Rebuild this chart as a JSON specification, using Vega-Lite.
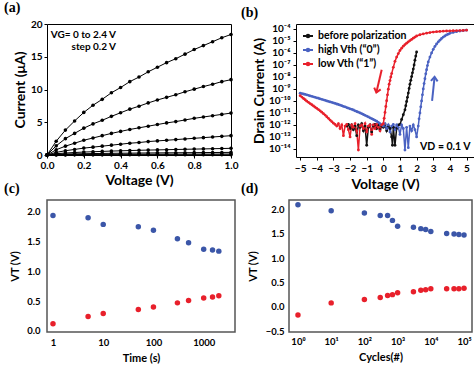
{
 "$schema": "https://vega.github.io/schema/vega-lite/v6.json",
 "padding": {"left": 3, "top": 0, "right": 2, "bottom": 0},
 "background": "white",
 "config": {
  "view": {"stroke": "black", "strokeWidth": 1},
  "font": "Lato",
  "axis": {"grid": false, "domain": false, "labelFont": "Lato", "titleFont": "Lato", "labelFontWeight": "bold", "titleFontWeight": "bold", "labelColor": "black", "titleColor": "black", "tickColor": "black", "labelOverlap": false},
  "title": {"font": "Liberation Serif", "fontWeight": "bold", "fontSize": 14, "anchor": "start", "frame": "group", "color": "black", "offset": 0}
 },
 "datasets": {
  "iv": [
   {"vg":2.4,"v":0,"i":0},{"vg":2.4,"v":0.05,"i":2.1},{"vg":2.4,"v":0.1,"i":3.8},{"vg":2.4,"v":0.15,"i":5.2},{"vg":2.4,"v":0.2,"i":6.5},{"vg":2.4,"v":0.25,"i":7.6},{"vg":2.4,"v":0.3,"i":8.5},{"vg":2.4,"v":0.35,"i":9.5},{"vg":2.4,"v":0.4,"i":10.3},{"vg":2.4,"v":0.45,"i":11.2},{"vg":2.4,"v":0.5,"i":11.9},{"vg":2.4,"v":0.55,"i":12.7},{"vg":2.4,"v":0.6,"i":13.4},{"vg":2.4,"v":0.65,"i":14.1},{"vg":2.4,"v":0.7,"i":14.7},{"vg":2.4,"v":0.75,"i":15.4},{"vg":2.4,"v":0.8,"i":16.1},{"vg":2.4,"v":0.85,"i":16.7},{"vg":2.4,"v":0.9,"i":17.3},{"vg":2.4,"v":0.95,"i":17.9},{"vg":2.4,"v":1,"i":18.4},
   {"vg":2.2,"v":0,"i":0},{"vg":2.2,"v":0.05,"i":1.4},{"vg":2.2,"v":0.1,"i":2.5},{"vg":2.2,"v":0.15,"i":3.3},{"vg":2.2,"v":0.2,"i":4.1},{"vg":2.2,"v":0.25,"i":4.75},{"vg":2.2,"v":0.3,"i":5.3},{"vg":2.2,"v":0.35,"i":5.9},{"vg":2.2,"v":0.4,"i":6.45},{"vg":2.2,"v":0.45,"i":7.0},{"vg":2.2,"v":0.5,"i":7.45},{"vg":2.2,"v":0.55,"i":7.95},{"vg":2.2,"v":0.6,"i":8.4},{"vg":2.2,"v":0.65,"i":8.8},{"vg":2.2,"v":0.7,"i":9.2},{"vg":2.2,"v":0.75,"i":9.65},{"vg":2.2,"v":0.8,"i":10.05},{"vg":2.2,"v":0.85,"i":10.45},{"vg":2.2,"v":0.9,"i":10.8},{"vg":2.2,"v":0.95,"i":11.2},{"vg":2.2,"v":1,"i":11.5},
   {"vg":2.0,"v":0,"i":0},{"vg":2.0,"v":0.05,"i":0.8},{"vg":2.0,"v":0.1,"i":1.35},{"vg":2.0,"v":0.15,"i":1.8},{"vg":2.0,"v":0.2,"i":2.25},{"vg":2.0,"v":0.25,"i":2.6},{"vg":2.0,"v":0.3,"i":2.95},{"vg":2.0,"v":0.35,"i":3.3},{"vg":2.0,"v":0.4,"i":3.6},{"vg":2.0,"v":0.45,"i":3.9},{"vg":2.0,"v":0.5,"i":4.15},{"vg":2.0,"v":0.55,"i":4.4},{"vg":2.0,"v":0.6,"i":4.65},{"vg":2.0,"v":0.65,"i":4.9},{"vg":2.0,"v":0.7,"i":5.1},{"vg":2.0,"v":0.75,"i":5.35},{"vg":2.0,"v":0.8,"i":5.6},{"vg":2.0,"v":0.85,"i":5.8},{"vg":2.0,"v":0.9,"i":6.0},{"vg":2.0,"v":0.95,"i":6.2},{"vg":2.0,"v":1,"i":6.4},
   {"vg":1.8,"v":0,"i":0},{"vg":1.8,"v":0.05,"i":0.4},{"vg":1.8,"v":0.1,"i":0.65},{"vg":1.8,"v":0.15,"i":0.85},{"vg":1.8,"v":0.2,"i":1.05},{"vg":1.8,"v":0.25,"i":1.2},{"vg":1.8,"v":0.3,"i":1.35},{"vg":1.8,"v":0.35,"i":1.5},{"vg":1.8,"v":0.4,"i":1.65},{"vg":1.8,"v":0.45,"i":1.8},{"vg":1.8,"v":0.5,"i":1.9},{"vg":1.8,"v":0.55,"i":2.05},{"vg":1.8,"v":0.6,"i":2.15},{"vg":1.8,"v":0.65,"i":2.25},{"vg":1.8,"v":0.7,"i":2.35},{"vg":1.8,"v":0.75,"i":2.45},{"vg":1.8,"v":0.8,"i":2.55},{"vg":1.8,"v":0.85,"i":2.65},{"vg":1.8,"v":0.9,"i":2.75},{"vg":1.8,"v":0.95,"i":2.85},{"vg":1.8,"v":1,"i":2.95},
   {"vg":1.6,"v":0,"i":0},{"vg":1.6,"v":0.05,"i":0.2},{"vg":1.6,"v":0.1,"i":0.3},{"vg":1.6,"v":0.15,"i":0.38},{"vg":1.6,"v":0.2,"i":0.45},{"vg":1.6,"v":0.25,"i":0.5},{"vg":1.6,"v":0.3,"i":0.55},{"vg":1.6,"v":0.35,"i":0.6},{"vg":1.6,"v":0.4,"i":0.64},{"vg":1.6,"v":0.45,"i":0.68},{"vg":1.6,"v":0.5,"i":0.72},{"vg":1.6,"v":0.55,"i":0.75},{"vg":1.6,"v":0.6,"i":0.78},{"vg":1.6,"v":0.65,"i":0.81},{"vg":1.6,"v":0.7,"i":0.84},{"vg":1.6,"v":0.75,"i":0.87},{"vg":1.6,"v":0.8,"i":0.9},{"vg":1.6,"v":0.85,"i":0.93},{"vg":1.6,"v":0.9,"i":0.96},{"vg":1.6,"v":0.95,"i":0.99},{"vg":1.6,"v":1,"i":1.02},
   {"vg":1.4,"v":0,"i":0},{"vg":1.4,"v":0.05,"i":0.1},{"vg":1.4,"v":0.1,"i":0.15},{"vg":1.4,"v":0.15,"i":0.18},{"vg":1.4,"v":0.2,"i":0.2},{"vg":1.4,"v":0.25,"i":0.22},{"vg":1.4,"v":0.3,"i":0.24},{"vg":1.4,"v":0.35,"i":0.26},{"vg":1.4,"v":0.4,"i":0.27},{"vg":1.4,"v":0.45,"i":0.28},{"vg":1.4,"v":0.5,"i":0.3},{"vg":1.4,"v":0.55,"i":0.31},{"vg":1.4,"v":0.6,"i":0.32},{"vg":1.4,"v":0.65,"i":0.33},{"vg":1.4,"v":0.7,"i":0.34},{"vg":1.4,"v":0.75,"i":0.35},{"vg":1.4,"v":0.8,"i":0.36},{"vg":1.4,"v":0.85,"i":0.37},{"vg":1.4,"v":0.9,"i":0.38},{"vg":1.4,"v":0.95,"i":0.39},{"vg":1.4,"v":1,"i":0.4},
   {"vg":1.2,"v":0,"i":0},{"vg":1.2,"v":0.05,"i":0.04},{"vg":1.2,"v":0.1,"i":0.06},{"vg":1.2,"v":0.15,"i":0.07},{"vg":1.2,"v":0.2,"i":0.08},{"vg":1.2,"v":0.25,"i":0.09},{"vg":1.2,"v":0.3,"i":0.1},{"vg":1.2,"v":0.35,"i":0.1},{"vg":1.2,"v":0.4,"i":0.11},{"vg":1.2,"v":0.45,"i":0.11},{"vg":1.2,"v":0.5,"i":0.12},{"vg":1.2,"v":0.55,"i":0.12},{"vg":1.2,"v":0.6,"i":0.12},{"vg":1.2,"v":0.65,"i":0.13},{"vg":1.2,"v":0.7,"i":0.13},{"vg":1.2,"v":0.75,"i":0.13},{"vg":1.2,"v":0.8,"i":0.14},{"vg":1.2,"v":0.85,"i":0.14},{"vg":1.2,"v":0.9,"i":0.14},{"vg":1.2,"v":0.95,"i":0.15},{"vg":1.2,"v":1,"i":0.15},
   {"vg":1.0,"v":0,"i":0},{"vg":1.0,"v":0.05,"i":0.01},{"vg":1.0,"v":0.1,"i":0.01},{"vg":1.0,"v":0.15,"i":0.02},{"vg":1.0,"v":0.2,"i":0.02},{"vg":1.0,"v":0.25,"i":0.02},{"vg":1.0,"v":0.3,"i":0.02},{"vg":1.0,"v":0.35,"i":0.02},{"vg":1.0,"v":0.4,"i":0.02},{"vg":1.0,"v":0.45,"i":0.03},{"vg":1.0,"v":0.5,"i":0.03},{"vg":1.0,"v":0.55,"i":0.03},{"vg":1.0,"v":0.6,"i":0.03},{"vg":1.0,"v":0.65,"i":0.03},{"vg":1.0,"v":0.7,"i":0.03},{"vg":1.0,"v":0.75,"i":0.03},{"vg":1.0,"v":0.8,"i":0.03},{"vg":1.0,"v":0.85,"i":0.03},{"vg":1.0,"v":0.9,"i":0.03},{"vg":1.0,"v":0.95,"i":0.03},{"vg":1.0,"v":1,"i":0.03}
  ],
  "tr": [
   {"s":"before","v":-2.2,"i":7.9e-13},{"s":"before","v":-2.1,"i":1.1e-12},{"s":"before","v":-2.0,"i":5.0e-13},{"s":"before","v":-1.9,"i":1.0e-12},{"s":"before","v":-1.8,"i":4.0e-13},{"s":"before","v":-1.7,"i":7.9e-13},{"s":"before","v":-1.6,"i":1.26e-13},{"s":"before","v":-1.5,"i":1.0e-12},{"s":"before","v":-1.4,"i":6.3e-13},{"s":"before","v":-1.3,"i":1.26e-12},{"s":"before","v":-1.2,"i":3.2e-13},{"s":"before","v":-1.1,"i":7.9e-13},{"s":"before","v":-1.0,"i":2.0e-14},{"s":"before","v":-0.9,"i":6.3e-13},{"s":"before","v":-0.8,"i":1.0e-12},{"s":"before","v":-0.7,"i":2.5e-13},{"s":"before","v":-0.6,"i":7.9e-13},{"s":"before","v":-0.5,"i":1.1e-12},{"s":"before","v":-0.4,"i":5.0e-13},{"s":"before","v":-0.3,"i":1.0e-12},{"s":"before","v":-0.2,"i":4.0e-13},{"s":"before","v":-0.1,"i":7.9e-13},{"s":"before","v":0,"i":6.3e-13},{"s":"before","v":0.1,"i":1.1e-12},{"s":"before","v":0.2,"i":3.2e-13},{"s":"before","v":0.3,"i":7.9e-13},{"s":"before","v":0.4,"i":5.0e-13},{"s":"before","v":0.5,"i":1.0e-13},{"s":"before","v":0.55,"i":2.0e-14},{"s":"before","v":0.6,"i":6.3e-13},{"s":"before","v":0.7,"i":2.0e-14},{"s":"before","v":0.8,"i":5.0e-13},{"s":"before","v":0.9,"i":1.0e-12},{"s":"before","v":1.0,"i":1.1e-12},{"s":"before","v":1.1,"i":2.8e-12},{"s":"before","v":1.2,"i":7.1e-12},{"s":"before","v":1.3,"i":1.8e-11},{"s":"before","v":1.35,"i":4.0e-11},{"s":"before","v":1.4,"i":8.9e-11},{"s":"before","v":1.45,"i":2.0e-10},{"s":"before","v":1.5,"i":4.5e-10},{"s":"before","v":1.55,"i":1.1e-9},{"s":"before","v":1.6,"i":2.5e-9},{"s":"before","v":1.65,"i":5.2e-9},{"s":"before","v":1.7,"i":1.07e-8},{"s":"before","v":1.75,"i":2.2e-8},{"s":"before","v":1.8,"i":4.5e-8},{"s":"before","v":1.85,"i":1.0e-7},{"s":"before","v":1.9,"i":2.5e-7},{"s":"before","v":1.95,"i":5.5e-7},{"s":"before","v":2.0,"i":1.2e-6},
   {"s":"high","v":-5.0,"i":4.4e-10},{"s":"high","v":-4.9,"i":4.1e-10},{"s":"high","v":-4.8,"i":3.8e-10},{"s":"high","v":-4.7,"i":3.5e-10},{"s":"high","v":-4.6,"i":3.2e-10},{"s":"high","v":-4.5,"i":2.9e-10},{"s":"high","v":-4.4,"i":2.6e-10},{"s":"high","v":-4.3,"i":2.4e-10},{"s":"high","v":-4.2,"i":2.2e-10},{"s":"high","v":-4.1,"i":2.0e-10},{"s":"high","v":-4.0,"i":1.8e-10},{"s":"high","v":-3.9,"i":1.66e-10},{"s":"high","v":-3.8,"i":1.48e-10},{"s":"high","v":-3.7,"i":1.35e-10},{"s":"high","v":-3.6,"i":1.23e-10},{"s":"high","v":-3.5,"i":1.12e-10},{"s":"high","v":-3.4,"i":1.0e-10},{"s":"high","v":-3.3,"i":9.1e-11},{"s":"high","v":-3.2,"i":8.3e-11},{"s":"high","v":-3.1,"i":7.6e-11},{"s":"high","v":-3.0,"i":6.8e-11},{"s":"high","v":-2.9,"i":6.2e-11},{"s":"high","v":-2.8,"i":5.5e-11},{"s":"high","v":-2.7,"i":5.0e-11},{"s":"high","v":-2.6,"i":4.5e-11},{"s":"high","v":-2.5,"i":4.0e-11},{"s":"high","v":-2.4,"i":3.5e-11},{"s":"high","v":-2.3,"i":3.2e-11},{"s":"high","v":-2.2,"i":2.8e-11},{"s":"high","v":-2.1,"i":2.5e-11},{"s":"high","v":-2.0,"i":2.2e-11},{"s":"high","v":-1.9,"i":2.0e-11},{"s":"high","v":-1.8,"i":1.74e-11},{"s":"high","v":-1.7,"i":1.5e-11},{"s":"high","v":-1.6,"i":1.3e-11},{"s":"high","v":-1.5,"i":1.15e-11},{"s":"high","v":-1.4,"i":1.0e-11},{"s":"high","v":-1.3,"i":8.7e-12},{"s":"high","v":-1.2,"i":7.4e-12},{"s":"high","v":-1.1,"i":6.3e-12},{"s":"high","v":-1.0,"i":5.4e-12},{"s":"high","v":-0.9,"i":4.6e-12},{"s":"high","v":-0.8,"i":3.9e-12},{"s":"high","v":-0.7,"i":3.3e-12},{"s":"high","v":-0.6,"i":2.8e-12},{"s":"high","v":-0.5,"i":2.4e-12},{"s":"high","v":-0.4,"i":2.0e-12},{"s":"high","v":-0.3,"i":1.6e-12},{"s":"high","v":-0.2,"i":1.26e-12},{"s":"high","v":-0.1,"i":1.0e-12},{"s":"high","v":0,"i":7.9e-13},{"s":"high","v":0.1,"i":1.26e-12},{"s":"high","v":0.2,"i":5.0e-13},{"s":"high","v":0.3,"i":1.0e-12},{"s":"high","v":0.4,"i":2.5e-13},{"s":"high","v":0.5,"i":7.9e-13},{"s":"high","v":0.6,"i":1.1e-12},{"s":"high","v":0.7,"i":4.0e-13},{"s":"high","v":0.8,"i":1.0e-12},{"s":"high","v":0.9,"i":6.3e-13},{"s":"high","v":1.0,"i":1.6e-13},{"s":"high","v":1.1,"i":1.0e-12},{"s":"high","v":1.2,"i":5.0e-13},{"s":"high","v":1.3,"i":8.0e-15},{"s":"high","v":1.4,"i":6.3e-13},{"s":"high","v":1.5,"i":1.26e-14},{"s":"high","v":1.6,"i":7.9e-13},{"s":"high","v":1.7,"i":3.2e-13},{"s":"high","v":1.8,"i":1.0e-12},{"s":"high","v":1.9,"i":4.0e-13},{"s":"high","v":2.0,"i":1.0e-13},{"s":"high","v":2.1,"i":7.9e-13},{"s":"high","v":2.15,"i":3.2e-12},{"s":"high","v":2.2,"i":1.0e-11},{"s":"high","v":2.25,"i":3.2e-11},{"s":"high","v":2.3,"i":1.0e-10},{"s":"high","v":2.35,"i":3.2e-10},{"s":"high","v":2.4,"i":1.0e-9},{"s":"high","v":2.45,"i":2.8e-9},{"s":"high","v":2.5,"i":7.1e-9},{"s":"high","v":2.55,"i":1.8e-8},{"s":"high","v":2.6,"i":4.0e-8},{"s":"high","v":2.65,"i":8.9e-8},{"s":"high","v":2.7,"i":1.8e-7},{"s":"high","v":2.8,"i":4.5e-7},{"s":"high","v":2.9,"i":1.0e-6},{"s":"high","v":3.0,"i":2.0e-6},{"s":"high","v":3.1,"i":3.5e-6},{"s":"high","v":3.2,"i":5.6e-6},{"s":"high","v":3.3,"i":8.3e-6},{"s":"high","v":3.4,"i":1.17e-5},{"s":"high","v":3.5,"i":1.6e-5},{"s":"high","v":3.6,"i":2.1e-5},{"s":"high","v":3.7,"i":2.6e-5},{"s":"high","v":3.8,"i":3.2e-5},{"s":"high","v":3.9,"i":3.7e-5},{"s":"high","v":4.0,"i":4.3e-5},{"s":"high","v":4.2,"i":5.2e-5},{"s":"high","v":4.4,"i":6.0e-5},{"s":"high","v":4.6,"i":6.8e-5},{"s":"high","v":4.8,"i":7.4e-5},{"s":"high","v":5.0,"i":7.9e-5},
   {"s":"low","v":-5.0,"i":2.75e-10},{"s":"low","v":-4.9,"i":2.1e-10},{"s":"low","v":-4.8,"i":1.6e-10},{"s":"low","v":-4.7,"i":1.25e-10},{"s":"low","v":-4.6,"i":9.5e-11},{"s":"low","v":-4.5,"i":7.6e-11},{"s":"low","v":-4.4,"i":6.0e-11},{"s":"low","v":-4.3,"i":4.8e-11},{"s":"low","v":-4.2,"i":3.8e-11},{"s":"low","v":-4.1,"i":3.0e-11},{"s":"low","v":-4.0,"i":2.4e-11},{"s":"low","v":-3.9,"i":1.9e-11},{"s":"low","v":-3.8,"i":1.5e-11},{"s":"low","v":-3.7,"i":1.15e-11},{"s":"low","v":-3.6,"i":8.7e-12},{"s":"low","v":-3.5,"i":6.6e-12},{"s":"low","v":-3.4,"i":4.8e-12},{"s":"low","v":-3.3,"i":3.5e-12},{"s":"low","v":-3.2,"i":2.5e-12},{"s":"low","v":-3.1,"i":1.9e-12},{"s":"low","v":-3.0,"i":1.4e-12},{"s":"low","v":-2.9,"i":1.1e-12},{"s":"low","v":-2.8,"i":7.9e-13},{"s":"low","v":-2.7,"i":1.26e-12},{"s":"low","v":-2.6,"i":5.0e-13},{"s":"low","v":-2.5,"i":1.0e-12},{"s":"low","v":-2.4,"i":1.26e-13},{"s":"low","v":-2.3,"i":7.9e-13},{"s":"low","v":-2.2,"i":1.1e-12},{"s":"low","v":-2.1,"i":4.0e-13},{"s":"low","v":-2.0,"i":1.0e-13},{"s":"low","v":-1.9,"i":1.0e-12},{"s":"low","v":-1.8,"i":6.3e-13},{"s":"low","v":-1.7,"i":1.26e-12},{"s":"low","v":-1.6,"i":3.2e-13},{"s":"low","v":-1.5,"i":8.0e-15},{"s":"low","v":-1.4,"i":7.9e-13},{"s":"low","v":-1.3,"i":1.0e-12},{"s":"low","v":-1.2,"i":5.0e-13},{"s":"low","v":-1.1,"i":1.26e-12},{"s":"low","v":-1.0,"i":2.5e-13},{"s":"low","v":-0.9,"i":7.9e-13},{"s":"low","v":-0.8,"i":1.0e-12},{"s":"low","v":-0.7,"i":1.6e-13},{"s":"low","v":-0.6,"i":1.0e-12},{"s":"low","v":-0.5,"i":5.0e-13},{"s":"low","v":-0.4,"i":1.1e-12},{"s":"low","v":-0.3,"i":6.3e-13},{"s":"low","v":-0.2,"i":3.2e-13},{"s":"low","v":-0.1,"i":1.0e-12},{"s":"low","v":0,"i":1.26e-12},{"s":"low","v":0.05,"i":3.5e-12},{"s":"low","v":0.1,"i":1.1e-11},{"s":"low","v":0.15,"i":3.4e-11},{"s":"low","v":0.2,"i":1.05e-10},{"s":"low","v":0.25,"i":3.2e-10},{"s":"low","v":0.3,"i":9.5e-10},{"s":"low","v":0.35,"i":2.5e-9},{"s":"low","v":0.4,"i":5.0e-9},{"s":"low","v":0.45,"i":1.0e-8},{"s":"low","v":0.5,"i":1.9e-8},{"s":"low","v":0.6,"i":6.3e-8},{"s":"low","v":0.7,"i":2.0e-7},{"s":"low","v":0.8,"i":4.5e-7},{"s":"low","v":0.9,"i":8.9e-7},{"s":"low","v":1.0,"i":1.6e-6},{"s":"low","v":1.1,"i":2.5e-6},{"s":"low","v":1.2,"i":3.7e-6},{"s":"low","v":1.3,"i":5.0e-6},{"s":"low","v":1.4,"i":6.6e-6},{"s":"low","v":1.5,"i":8.5e-6},{"s":"low","v":1.6,"i":1.07e-5},{"s":"low","v":1.7,"i":1.35e-5},{"s":"low","v":1.8,"i":1.7e-5},{"s":"low","v":1.9,"i":2.1e-5},{"s":"low","v":2.0,"i":2.6e-5},{"s":"low","v":2.2,"i":3.3e-5},{"s":"low","v":2.4,"i":3.9e-5},{"s":"low","v":2.6,"i":4.5e-5},{"s":"low","v":2.8,"i":5.0e-5},{"s":"low","v":3.0,"i":5.5e-5},{"s":"low","v":3.2,"i":6.0e-5},{"s":"low","v":3.4,"i":6.3e-5},{"s":"low","v":3.6,"i":6.6e-5},{"s":"low","v":3.8,"i":6.8e-5},{"s":"low","v":4.0,"i":6.9e-5},{"s":"low","v":4.2,"i":7.1e-5},{"s":"low","v":4.4,"i":7.2e-5},{"s":"low","v":4.6,"i":7.4e-5},{"s":"low","v":4.8,"i":7.6e-5},{"s":"low","v":5.0,"i":7.9e-5}
  ],
  "arr": [
   {"s":"low","v":-0.1,"i":4.0e-8,"v2":-0.42,"i2":5.0e-10},
   {"s":"high","v":2.93,"i":1.0e-10,"v2":3.08,"i2":1.0e-8}
  ],
  "ret": [
   {"st":"high","t":1,"vt":1.94},{"st":"high","t":5,"vt":1.90},{"st":"high","t":10,"vt":1.79},{"st":"high","t":50,"vt":1.75},{"st":"high","t":100,"vt":1.69},{"st":"high","t":300,"vt":1.55},{"st":"high","t":500,"vt":1.48},{"st":"high","t":1000,"vt":1.37},{"st":"high","t":1500,"vt":1.36},{"st":"high","t":2000,"vt":1.34},
   {"st":"low","t":1,"vt":0.12},{"st":"low","t":5,"vt":0.24},{"st":"low","t":10,"vt":0.29},{"st":"low","t":50,"vt":0.36},{"st":"low","t":100,"vt":0.40},{"st":"low","t":300,"vt":0.47},{"st":"low","t":500,"vt":0.51},{"st":"low","t":1000,"vt":0.55},{"st":"low","t":1500,"vt":0.57},{"st":"low","t":2000,"vt":0.59}
  ],
  "end": [
   {"st":"high","n":1,"vt":2.10},{"st":"high","n":10,"vt":1.98},{"st":"high","n":100,"vt":1.93},{"st":"high","n":300,"vt":1.88},{"st":"high","n":500,"vt":1.88},{"st":"high","n":700,"vt":1.78},{"st":"high","n":1000,"vt":1.66},{"st":"high","n":3000,"vt":1.64},{"st":"high","n":5000,"vt":1.61},{"st":"high","n":7000,"vt":1.59},{"st":"high","n":10000,"vt":1.55},{"st":"high","n":30000,"vt":1.51},{"st":"high","n":50000,"vt":1.50},{"st":"high","n":70000,"vt":1.49},{"st":"high","n":100000,"vt":1.48},
   {"st":"low","n":1,"vt":-0.17},{"st":"low","n":10,"vt":0.08},{"st":"low","n":100,"vt":0.15},{"st":"low","n":300,"vt":0.19},{"st":"low","n":500,"vt":0.23},{"st":"low","n":700,"vt":0.25},{"st":"low","n":1000,"vt":0.29},{"st":"low","n":3000,"vt":0.31},{"st":"low","n":5000,"vt":0.34},{"st":"low","n":7000,"vt":0.35},{"st":"low","n":10000,"vt":0.37},{"st":"low","n":30000,"vt":0.37},{"st":"low","n":50000,"vt":0.37},{"st":"low","n":70000,"vt":0.37},{"st":"low","n":100000,"vt":0.38}
  ]
 },
 "vconcat": [
  {
   "hconcat": [
    {
     "width": 184, "height": 131,
     "title": {"text": "(a)", "dx": -43},
     "layer": [
      {"data": {"name": "iv"}, "mark": {"type": "line", "color": "black", "strokeWidth": 1},
       "encoding": {
        "x": {"field": "v", "type": "quantitative", "scale": {"domain": [0, 1], "nice": false}, "axis": {"values": [0, 0.2, 0.4, 0.6, 0.8, 1], "format": ".1f", "title": "Voltage (V)", "labelFontSize": 10, "titleFontSize": 14, "tickSize": 3, "labelPadding": 2, "titlePadding": 3, "labelFlush": false, "labelOverlap": false}},
        "y": {"field": "i", "type": "quantitative", "scale": {"domain": [0, 20], "nice": false}, "axis": {"values": [0, 5, 10, 15, 20], "title": "Current (μA)", "labelFontSize": 10, "titleFontSize": 14, "tickSize": 3, "labelPadding": 2, "titlePadding": 3, "labelFlush": false, "labelOverlap": false}},
        "detail": {"field": "vg", "type": "nominal"}
       }},
      {"data": {"name": "iv"}, "mark": {"type": "point", "filled": true, "color": "black", "size": 13, "opacity": 1},
       "encoding": {
        "x": {"field": "v", "type": "quantitative", "scale": {"domain": [0, 1], "nice": false}, "axis": {"values": [0, 0.2, 0.4, 0.6, 0.8, 1], "format": ".1f", "title": "Voltage (V)", "labelFontSize": 10, "titleFontSize": 14, "tickSize": 3, "labelPadding": 2, "titlePadding": 3, "labelFlush": false, "labelOverlap": false}},
        "y": {"field": "i", "type": "quantitative", "scale": {"domain": [0, 20], "nice": false}, "axis": {"values": [0, 5, 10, 15, 20], "title": "Current (μA)", "labelFontSize": 10, "titleFontSize": 14, "tickSize": 3, "labelPadding": 2, "titlePadding": 3, "labelFlush": false, "labelOverlap": false}}
       }},
      {"data": {"values": [{}]}, "mark": {"type": "text", "text": "VG= 0 to 2.4 V", "align": "right", "baseline": "middle", "fontSize": 10, "fontWeight": "bold", "font": "Lato", "color": "black"},
       "encoding": {
        "x": {"datum": 0.375, "type": "quantitative", "scale": {"domain": [0, 1], "nice": false}, "axis": {"values": [0, 0.2, 0.4, 0.6, 0.8, 1], "format": ".1f", "title": "Voltage (V)", "labelFontSize": 10, "titleFontSize": 14, "tickSize": 3, "labelPadding": 2, "titlePadding": 3, "labelFlush": false, "labelOverlap": false}},
        "y": {"datum": 18.3, "type": "quantitative", "scale": {"domain": [0, 20], "nice": false}, "axis": {"values": [0, 5, 10, 15, 20], "title": "Current (μA)", "labelFontSize": 10, "titleFontSize": 14, "tickSize": 3, "labelPadding": 2, "titlePadding": 3, "labelFlush": false, "labelOverlap": false}}
       }},
      {"data": {"values": [{}]}, "mark": {"type": "text", "text": "step 0.2 V", "align": "right", "baseline": "middle", "fontSize": 10, "fontWeight": "bold", "font": "Lato", "color": "black"},
       "encoding": {
        "x": {"datum": 0.375, "type": "quantitative", "scale": {"domain": [0, 1], "nice": false}, "axis": {"values": [0, 0.2, 0.4, 0.6, 0.8, 1], "format": ".1f", "title": "Voltage (V)", "labelFontSize": 10, "titleFontSize": 14, "tickSize": 3, "labelPadding": 2, "titlePadding": 3, "labelFlush": false, "labelOverlap": false}},
        "y": {"datum": 16.5, "type": "quantitative", "scale": {"domain": [0, 20], "nice": false}, "axis": {"values": [0, 5, 10, 15, 20], "title": "Current (μA)", "labelFontSize": 10, "titleFontSize": 14, "tickSize": 3, "labelPadding": 2, "titlePadding": 3, "labelFlush": false, "labelOverlap": false}}
       }}
     ]
    },
    {
     "width": 178, "height": 133,
     "title": {"text": "(b)", "dx": -55},
     "layer": [
      {
       "data": {"name": "tr"},
       "mark": {"type": "line", "strokeWidth": 1.5},
       "encoding": {
        "x": {"field": "v", "type": "quantitative", "scale": {"domain": [-5.25, 5.45], "nice": false}, "axis": {"values": [-5, -4, -3, -2, -1, 0, 1, 2, 3, 4, 5], "title": "Voltage (V)", "labelFontSize": 10, "titleFontSize": 14, "tickSize": 3, "labelPadding": 3, "titlePadding": 4, "labelFlush": false, "labelOverlap": false}},
        "y": {"field": "i", "type": "quantitative", "scale": {"type": "log", "domain": [2.1e-15, 2.6e-4], "nice": false}, "axis": {"values": [1e-14, 1e-13, 1e-12, 1e-11, 1e-10, 1e-9, 1e-8, 1e-7, 1e-6, 1e-5, 1e-4], "labelExpr": "'10⁻' + (round(-log(datum.value)/LN10) >= 10 ? '¹' : '') + ['⁰','¹','²','³','⁴','⁵','⁶','⁷','⁸','⁹'][round(-log(datum.value)/LN10) % 10]", "title": "Drain Current (A)", "labelFontSize": 10, "titleFontSize": 14, "tickSize": 3, "labelPadding": 3, "titlePadding": 2, "labelFlush": false, "labelOverlap": false}},
        "color": {"field": "s", "type": "nominal", "scale": {"domain": ["before", "high", "low"], "range": ["#111111", "#4a62c2", "#e8202b"]}, "legend": {"orient": "top-left", "offset": 6, "title": null, "padding": 0, "labelFontSize": 10.5, "labelFont": "Lato", "labelFontWeight": "bold", "labelColor": "black", "symbolType": "M-1,0H1M0.25,0A0.25,0.25 0 1 1 -0.25,0A0.25,0.25 0 1 1 0.25,0", "symbolSize": 100, "symbolStrokeWidth": 2, "rowPadding": 2, "labelOffset": 4, "labelExpr": "datum.value == 'before' ? 'before polarization' : datum.value == 'high' ? 'high Vth (“0”)' : 'low Vth (“1”)'"}}
       }
      },
      {
       "data": {"name": "tr"},
       "mark": {"type": "point", "filled": true, "size": 8, "opacity": 1},
       "encoding": {
        "x": {"field": "v", "type": "quantitative", "scale": {"domain": [-5.25, 5.45], "nice": false}, "axis": {"values": [-5, -4, -3, -2, -1, 0, 1, 2, 3, 4, 5], "title": "Voltage (V)", "labelFontSize": 10, "titleFontSize": 14, "tickSize": 3, "labelPadding": 3, "titlePadding": 4, "labelFlush": false, "labelOverlap": false}},
        "y": {"field": "i", "type": "quantitative", "scale": {"type": "log", "domain": [2.1e-15, 2.6e-4], "nice": false}, "axis": {"values": [1e-14, 1e-13, 1e-12, 1e-11, 1e-10, 1e-9, 1e-8, 1e-7, 1e-6, 1e-5, 1e-4], "labelExpr": "'10⁻' + (round(-log(datum.value)/LN10) >= 10 ? '¹' : '') + ['⁰','¹','²','³','⁴','⁵','⁶','⁷','⁸','⁹'][round(-log(datum.value)/LN10) % 10]", "title": "Drain Current (A)", "labelFontSize": 10, "titleFontSize": 14, "tickSize": 3, "labelPadding": 3, "titlePadding": 2, "labelFlush": false, "labelOverlap": false}},
        "color": {"field": "s", "type": "nominal", "scale": {"domain": ["before", "high", "low"], "range": ["#111111", "#4a62c2", "#e8202b"]}, "legend": {"orient": "top-left", "offset": 6, "title": null, "padding": 0, "labelFontSize": 10.5, "labelFont": "Lato", "labelFontWeight": "bold", "labelColor": "black", "symbolType": "M-1,0H1M0.25,0A0.25,0.25 0 1 1 -0.25,0A0.25,0.25 0 1 1 0.25,0", "symbolSize": 100, "symbolStrokeWidth": 2, "rowPadding": 2, "labelOffset": 4, "labelExpr": "datum.value == 'before' ? 'before polarization' : datum.value == 'high' ? 'high Vth (“0”)' : 'low Vth (“1”)'"}}
       }
      },
      {
       "data": {"name": "arr"},
       "mark": {"type": "rule", "strokeWidth": 2},
       "encoding": {
        "x": {"field": "v", "type": "quantitative", "scale": {"domain": [-5.25, 5.45], "nice": false}, "axis": {"values": [-5, -4, -3, -2, -1, 0, 1, 2, 3, 4, 5], "title": "Voltage (V)", "labelFontSize": 10, "titleFontSize": 14, "tickSize": 3, "labelPadding": 3, "titlePadding": 4, "labelFlush": false, "labelOverlap": false}},
        "y": {"field": "i", "type": "quantitative", "scale": {"type": "log", "domain": [2.1e-15, 2.6e-4], "nice": false}, "axis": {"values": [1e-14, 1e-13, 1e-12, 1e-11, 1e-10, 1e-9, 1e-8, 1e-7, 1e-6, 1e-5, 1e-4], "labelExpr": "'10⁻' + (round(-log(datum.value)/LN10) >= 10 ? '¹' : '') + ['⁰','¹','²','³','⁴','⁵','⁶','⁷','⁸','⁹'][round(-log(datum.value)/LN10) % 10]", "title": "Drain Current (A)", "labelFontSize": 10, "titleFontSize": 14, "tickSize": 3, "labelPadding": 3, "titlePadding": 2, "labelFlush": false, "labelOverlap": false}},
        "x2": {"field": "v2"},
        "y2": {"field": "i2"},
        "color": {"field": "s", "type": "nominal", "scale": {"domain": ["before", "high", "low"], "range": ["#111111", "#4a62c2", "#e8202b"]}, "legend": {"orient": "top-left", "offset": 6, "title": null, "padding": 0, "labelFontSize": 10.5, "labelFont": "Lato", "labelFontWeight": "bold", "labelColor": "black", "symbolType": "M-1,0H1M0.25,0A0.25,0.25 0 1 1 -0.25,0A0.25,0.25 0 1 1 0.25,0", "symbolSize": 100, "symbolStrokeWidth": 2, "rowPadding": 2, "labelOffset": 4, "labelExpr": "datum.value == 'before' ? 'before polarization' : datum.value == 'high' ? 'high Vth (“0”)' : 'low Vth (“1”)'"}}
       }
      },
      {
       "data": {"name": "arr"},
       "transform": [{"filter": "datum.s == 'low'"}],
       "mark": {"type": "point", "shape": "M-0.8,-1L0,0L0.8,-1", "filled": false, "size": 70, "strokeWidth": 2, "angle": 15, "color": "#e8202b", "opacity": 1},
       "encoding": {
        "x": {"field": "v2", "type": "quantitative", "scale": {"domain": [-5.25, 5.45], "nice": false}, "axis": {"values": [-5, -4, -3, -2, -1, 0, 1, 2, 3, 4, 5], "title": "Voltage (V)", "labelFontSize": 10, "titleFontSize": 14, "tickSize": 3, "labelPadding": 3, "titlePadding": 4, "labelFlush": false, "labelOverlap": false}},
        "y": {"field": "i2", "type": "quantitative", "scale": {"type": "log", "domain": [2.1e-15, 2.6e-4], "nice": false}, "axis": {"values": [1e-14, 1e-13, 1e-12, 1e-11, 1e-10, 1e-9, 1e-8, 1e-7, 1e-6, 1e-5, 1e-4], "labelExpr": "'10⁻' + (round(-log(datum.value)/LN10) >= 10 ? '¹' : '') + ['⁰','¹','²','³','⁴','⁵','⁶','⁷','⁸','⁹'][round(-log(datum.value)/LN10) % 10]", "title": "Drain Current (A)", "labelFontSize": 10, "titleFontSize": 14, "tickSize": 3, "labelPadding": 3, "titlePadding": 2, "labelFlush": false, "labelOverlap": false}}
       }
      },
      {
       "data": {"name": "arr"},
       "transform": [{"filter": "datum.s == 'high'"}],
       "mark": {"type": "point", "shape": "M-0.8,1L0,0L0.8,1", "filled": false, "size": 70, "strokeWidth": 2, "angle": 4, "color": "#4a62c2", "opacity": 1},
       "encoding": {
        "x": {"field": "v2", "type": "quantitative", "scale": {"domain": [-5.25, 5.45], "nice": false}, "axis": {"values": [-5, -4, -3, -2, -1, 0, 1, 2, 3, 4, 5], "title": "Voltage (V)", "labelFontSize": 10, "titleFontSize": 14, "tickSize": 3, "labelPadding": 3, "titlePadding": 4, "labelFlush": false, "labelOverlap": false}},
        "y": {"field": "i2", "type": "quantitative", "scale": {"type": "log", "domain": [2.1e-15, 2.6e-4], "nice": false}, "axis": {"values": [1e-14, 1e-13, 1e-12, 1e-11, 1e-10, 1e-9, 1e-8, 1e-7, 1e-6, 1e-5, 1e-4], "labelExpr": "'10⁻' + (round(-log(datum.value)/LN10) >= 10 ? '¹' : '') + ['⁰','¹','²','³','⁴','⁵','⁶','⁷','⁸','⁹'][round(-log(datum.value)/LN10) % 10]", "title": "Drain Current (A)", "labelFontSize": 10, "titleFontSize": 14, "tickSize": 3, "labelPadding": 3, "titlePadding": 2, "labelFlush": false, "labelOverlap": false}}
       }
      },
      {
       "data": {"values": [{}]},
       "mark": {"type": "text", "text": "VD = 0.1 V", "align": "right", "baseline": "middle", "fontSize": 10.5, "fontWeight": "bold", "font": "Lato", "color": "black"},
       "encoding": {
        "x": {"datum": 5.25, "type": "quantitative", "scale": {"domain": [-5.25, 5.45], "nice": false}, "axis": {"values": [-5, -4, -3, -2, -1, 0, 1, 2, 3, 4, 5], "title": "Voltage (V)", "labelFontSize": 10, "titleFontSize": 14, "tickSize": 3, "labelPadding": 3, "titlePadding": 4, "labelFlush": false, "labelOverlap": false}},
        "y": {"datum": 1.5e-14, "type": "quantitative", "scale": {"type": "log", "domain": [2.1e-15, 2.6e-4], "nice": false}, "axis": {"values": [1e-14, 1e-13, 1e-12, 1e-11, 1e-10, 1e-9, 1e-8, 1e-7, 1e-6, 1e-5, 1e-4], "labelExpr": "'10⁻' + (round(-log(datum.value)/LN10) >= 10 ? '¹' : '') + ['⁰','¹','²','³','⁴','⁵','⁶','⁷','⁸','⁹'][round(-log(datum.value)/LN10) % 10]", "title": "Drain Current (A)", "labelFontSize": 10, "titleFontSize": 14, "tickSize": 3, "labelPadding": 3, "titlePadding": 2, "labelFlush": false, "labelOverlap": false}}
       }
      }
     ]
    }
   ],
   "spacing": 65,
   "bounds": "flush",
   "resolve": {"scale": {"color": "independent"}, "legend": {"color": "independent"}}
  },
  {
   "hconcat": [
    {
     "width": 188, "height": 132,
     "title": {"text": "(c)", "dx": -43},
     "view": {"stroke": "#555555", "strokeWidth": 1.5},
     "data": {"name": "ret"},
     "mark": {"type": "circle", "size": 30, "opacity": 1},
     "encoding": {
      "x": {"field": "t", "type": "quantitative", "scale": {"type": "log", "domain": [0.76, 4200], "nice": false}, "axis": {"values": [1, 10, 100, 1000], "format": "d", "title": "Time (s)", "labelFontSize": 9.5, "titleFontSize": 11, "tickSize": 0, "labelPadding": 5, "titlePadding": 6, "labelFlush": false}},
      "y": {"field": "vt", "type": "quantitative", "scale": {"domain": [-0.02, 2.2], "nice": false}, "axis": {"values": [0, 0.5, 1, 1.5, 2], "format": ".1f", "title": "VT (V)", "labelFontSize": 9.5, "titleFontSize": 11, "tickSize": 0, "labelPadding": 7, "titlePadding": 6, "labelFlush": false}},
      "color": {"field": "st", "type": "nominal", "scale": {"domain": ["high", "low"], "range": ["#3b56a8", "#e8202b"]}, "legend": null}
     }
    },
    {
     "width": 183, "height": 132,
     "title": {"text": "(d)", "dx": -48},
     "view": {"stroke": "#555555", "strokeWidth": 1.5},
     "data": {"name": "end"},
     "mark": {"type": "circle", "size": 30, "opacity": 1},
     "encoding": {
      "x": {"field": "n", "type": "quantitative", "scale": {"type": "log", "domain": [0.537, 173780], "nice": false}, "axis": {"values": [1, 10, 100, 1000, 10000, 100000], "labelExpr": "'10' + ['⁰','¹','²','³','⁴','⁵'][round(log(datum.value)/LN10)]", "title": "Cycles(#)", "labelFontSize": 9.5, "titleFontSize": 11, "tickSize": 0, "labelPadding": 4, "titlePadding": 6, "labelFlush": false}},
      "y": {"field": "vt", "type": "quantitative", "scale": {"domain": [-0.52, 2.2], "nice": false}, "axis": {"values": [-0.5, 0, 0.5, 1, 1.5, 2], "format": ".1f", "title": "VT (V)", "labelFontSize": 9.5, "titleFontSize": 11, "tickSize": 0, "labelPadding": 5, "titlePadding": 7, "labelFlush": false}},
      "color": {"field": "st", "type": "nominal", "scale": {"domain": ["high", "low"], "range": ["#3b56a8", "#e8202b"]}, "legend": null}
     }
    }
   ],
   "spacing": 54,
   "bounds": "flush",
   "resolve": {"scale": {"color": "independent"}}
  }
 ],
 "spacing": -11,
 "resolve": {"scale": {"color": "independent"}, "legend": {"color": "independent"}}
}
